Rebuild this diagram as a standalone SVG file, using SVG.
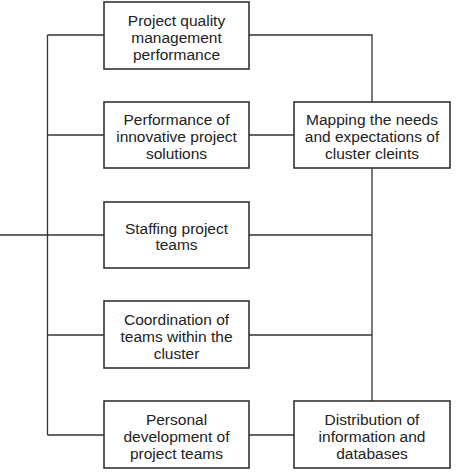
<svg xmlns="http://www.w3.org/2000/svg" width="474" height="474" viewBox="0 0 474 474">
<style>
.box{fill:#fff;stroke:#333;stroke-width:1.6}
.ln{fill:none;stroke:#333;stroke-width:1.3}
text{font-family:"Liberation Sans",Arial,sans-serif;font-size:15.5px;fill:#222;text-anchor:middle}
</style>
<rect width="474" height="474" fill="#fff"/>
<g id="connectors">
<path class="ln" d="M0 235H104"/>
<path class="ln" d="M47.5 35V435"/>
<path class="ln" d="M47.5 35H104M47.5 135H104M47.5 335H104M47.5 435H104"/>
<path class="ln" d="M249 35H372V102"/>
<path class="ln" d="M249 135H294"/>
<path class="ln" d="M372 168V401"/>
<path class="ln" d="M249 235H372M249 335H372"/>
<path class="ln" d="M249 435H294"/>
</g>
<g id="n1"><rect class="box" x="104" y="2" width="145" height="67"/>
<text x="176.5" y="25.5">Project quality</text><text x="176.5" y="42.5">management</text><text x="176.5" y="59.5">performance</text></g>
<g id="n2"><rect class="box" x="104" y="102" width="145" height="66"/>
<text x="176.5" y="124.5">Performance of</text><text x="176.5" y="141.5">innovative project</text><text x="176.5" y="158.5">solutions</text></g>
<g id="n3"><rect class="box" x="104" y="202" width="145" height="66"/>
<text x="176.5" y="233.5">Staffing project</text><text x="176.5" y="250">teams</text></g>
<g id="n4"><rect class="box" x="104" y="301" width="145" height="67"/>
<text x="176.5" y="324.5">Coordination of</text><text x="176.5" y="341.5">teams within the</text><text x="176.5" y="358.5">cluster</text></g>
<g id="n5"><rect class="box" x="104" y="401" width="145" height="67"/>
<text x="176.5" y="424.5">Personal</text><text x="176.5" y="441.5">development of</text><text x="176.5" y="458.5">project teams</text></g>
<g id="n6"><rect class="box" x="294" y="102" width="156" height="66"/>
<text x="372" y="124.5">Mapping the needs</text><text x="372" y="141.5">and expectations of</text><text x="372" y="158.5">cluster cleints</text></g>
<g id="n7"><rect class="box" x="294" y="401" width="156" height="67"/>
<text x="372" y="424.5">Distribution of</text><text x="372" y="441.5">information and</text><text x="372" y="458.5">databases</text></g>
</svg>
